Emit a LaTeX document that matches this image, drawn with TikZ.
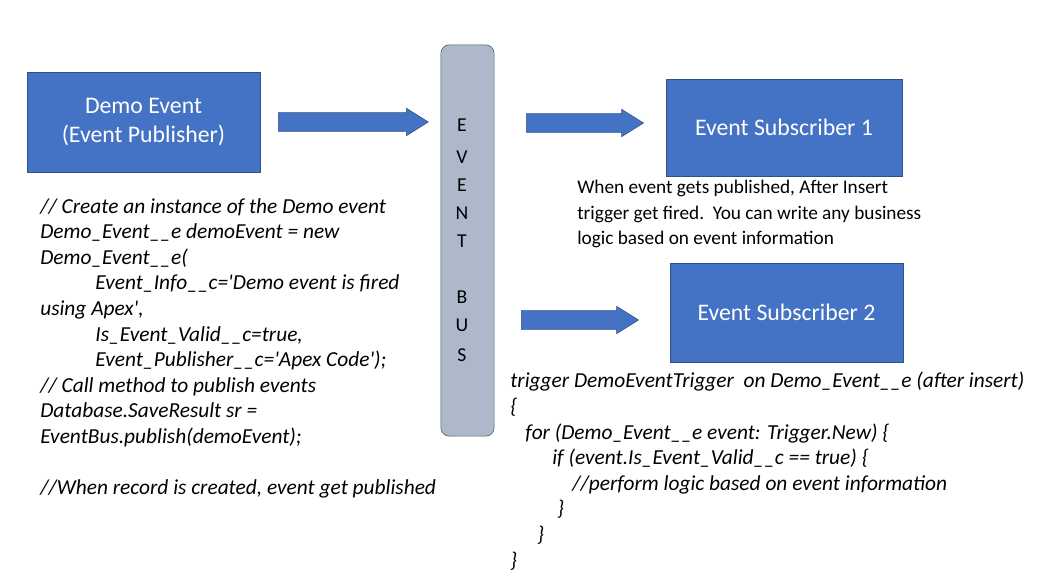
\documentclass[tikz,border=0pt]{standalone}
\usepackage{fontspec}
\setmainfont{Carlito}
\usetikzlibrary{shapes.arrows}
\definecolor{boxblue}{HTML}{4472C4}
\definecolor{busgray}{HTML}{ADB9CA}
\definecolor{busline}{HTML}{44546A}
\newcommand{\q}{\textquotesingle}
\begin{document}
\begin{tikzpicture}[x=0.025cm,y=-0.025cm]
\tikzset{
  box/.style={rectangle,fill=boxblue,draw=boxblue!70!black,text=white,align=center,font=\fontsize{16.9}{20.5}\selectfont,inner sep=0pt},
  blockarrow/.style={single arrow,fill=boxblue,draw=boxblue!70!black,minimum height=3.7cm,inner xsep=0pt,inner ysep=0.225cm,single arrow head extend=0.11cm,single arrow tip angle=64,anchor=west},
  code/.style={anchor=north west,align=left,font=\fontsize{15.2}{18.2}\selectfont\itshape,inner sep=0pt},
  note/.style={anchor=north west,align=left,font=\fontsize{13.7}{18.2}\selectfont,inner sep=0pt},
  letter/.style={font=\fontsize{14}{17}\selectfont}
}
\useasboundingbox (0,0) rectangle (1046,584);
% boxes
\node[box,minimum width=5.83cm,minimum height=2.5cm] (pub) at (143.5,122) {Demo Event\\(Event Publisher)};
\node[box,minimum width=5.9cm,minimum height=2.43cm] (sub1) at (784,127.5) {Event Subscriber 1};
\node[box,minimum width=5.83cm,minimum height=2.48cm] (sub2) at (786.5,312.5) {Event Subscriber 2};
% event bus
\node[rectangle,rounded corners=6pt,fill=busgray,draw=busline,minimum width=1.33cm,minimum height=9.78cm] (bus) at (467.5,240.5) {};
\foreach \ch/\yy in {E/125,V/157,E/185,N/213,T/241,B/297,U/325,S/355}
  \node[letter] at (462,\yy) {\ch};
% arrows
\node[blockarrow,minimum height=3.75cm] (a1) at (278,122) {};
\node[blockarrow,minimum height=2.93cm] (a2) at (526,123) {};
\node[blockarrow,minimum height=2.93cm] (a3) at (521,320) {};
% texts
\node[note] (n1) at (577,180) {When event gets published, After Insert\\trigger get fired.\ \ You can write any business\\logic based on event information};
\node[code] (c1) at (40,198) {// Create an instance of the Demo event\\
Demo\_Event\_\_e demoEvent = new\\
Demo\_Event\_\_e(\\
\hspace*{1.38cm}Event\_Info\_\_c=\q Demo event is fired\\
using Apex\q,\\
\hspace*{1.38cm}Is\_Event\_Valid\_\_c=true,\\
\hspace*{1.38cm}Event\_Publisher\_\_c=\q Apex Code\q);\\
// Call method to publish events\\
Database.SaveResult sr =\\
EventBus.publish(demoEvent);\\[18.2pt]
//When record is created, event get published};
\node[code] (c2) at (510,372) {trigger DemoEventTrigger\ \ on Demo\_Event\_\_e (after insert)\\
\{\\
\hspace*{0.38cm}for (Demo\_Event\_\_e event: Trigger.New) \{\\
\hspace*{1.05cm}if (event.Is\_Event\_Valid\_\_c == true) \{\\
\hspace*{1.55cm}//perform logic based on event information\\
\hspace*{1.18cm}\}\\
\hspace*{0.68cm}\}\\
\}};
\end{tikzpicture}
\end{document}
